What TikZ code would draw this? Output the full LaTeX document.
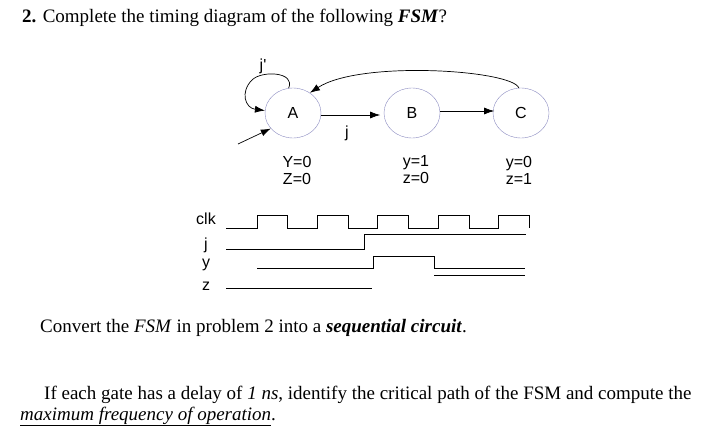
\documentclass[tikz,border=0pt]{standalone}
\usepackage{fontspec}
\setmainfont{Liberation Serif}
\newfontfamily\sansf{Liberation Sans}
\usetikzlibrary{arrows.meta,shapes.geometric}
\begin{document}
\begin{tikzpicture}[x=1pt,y=-1pt,
  st/.style={draw=blue!30!gray!70,ellipse,minimum width=56pt,minimum height=50pt,inner sep=0pt,font=\sansf\fontsize{16}{16}\selectfont},
  lab/.style={font=\sansf\fontsize{16}{16}\selectfont,inner sep=0pt},
  txt/.style={font=\fontsize{19}{22}\selectfont,inner sep=0pt,anchor=base west},
  arr/.style={-{Latex[length=10pt,width=7pt]},line width=0.7pt},
  sig/.style={line width=0.7pt}]
\useasboundingbox (0,0) rectangle (711,444);
\fill[white] (0,0) rectangle (711,444);
\node[txt] (t1) at (22,23) {\textbf{2.} Complete the timing diagram of the following \textbf{\textit{FSM}}?};
\node[st] (A) at (293,113) {A};
\node[st] (B) at (412,113) {B};
\node[st] (C) at (521,113) {C};
\node[lab] (jp) at (263,66) {j'};
\node[lab] (jl) at (347,133) {j};
\coordinate (init) at (238,144);
\draw[arr] (init) -- (A.215);
\draw[arr] (A.100) .. controls (296,72) and (262,70) .. (252,80) .. controls (240,92) and (245,108) .. (A.175);
\draw[arr] (A.east) ++(0,2) -- ++(59,0) coordinate (bin) ;
\draw[arr] (B.east) ++(0,-2) -- ++(54,0);
\draw[arr] (C.95) .. controls (512,70) and (360,60) .. (A.50);
\node[lab,align=center] (a1) at (297,170) {Y=0\\[1pt]Z=0};
\node[lab,align=center] (b1) at (416,170) {y=1\\[1pt]z=0};
\node[lab,align=center] (c1) at (519,170) {y=0\\[1pt]z=1};
\node[lab] (clk) at (206,219) {clk};
\node[lab] (jj) at (206,245) {j};
\node[lab] (yy) at (206,265) {y};
\node[lab] (zz) at (206,286) {z};
\draw[sig] (226,228) -- (257,228) -- (257,215) -- (287,215) -- (287,228) -- (317,228) -- (317,215) -- (348,215) -- (348,228) -- (377,228) -- (377,215) -- (408,215) -- (408,228) -- (438,228) -- (438,215) -- (469,215) -- (469,228) -- (498,228) -- (498,215) -- (529,215) -- (529,228);
\draw[sig] (226,249) -- (364,249) -- (364,234) -- (526,234);
\draw[sig] (257,268) -- (373,268) -- (373,256) -- (434,256) -- (434,268) -- (525,268);
\draw[sig] (434,275) -- (525,275);
\draw[sig] (226,288) -- (372,288);
\node[txt] (t2) at (40,332) {Convert the \textit{FSM} in problem 2 into a \textbf{\textit{sequential circuit}}.};
\node[txt] (t3) at (44,399) {If each gate has a delay of \textit{1 ns}, identify the critical path of the FSM and compute the};
\node[txt] (t4) at (20,420) {\textit{\underline{maximum frequency of operation}}.};
\end{tikzpicture}
\end{document}
